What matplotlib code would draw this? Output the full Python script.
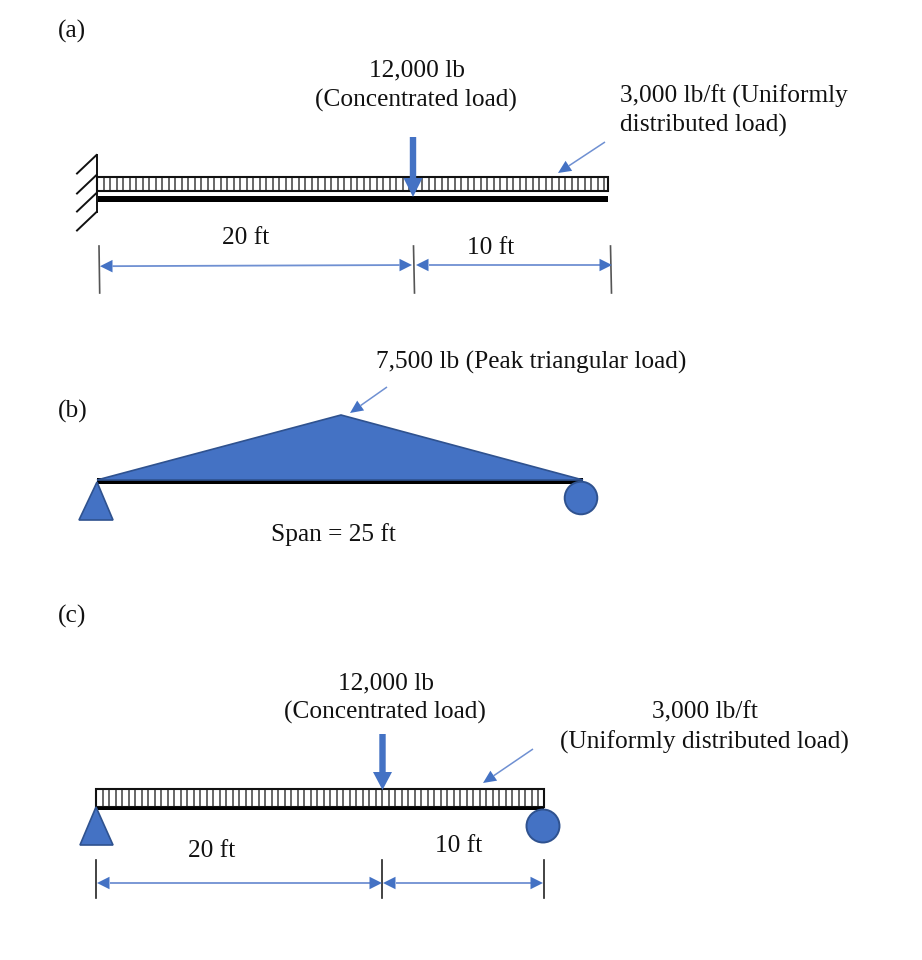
import numpy as np
import matplotlib
matplotlib.use("Agg")
import matplotlib.pyplot as plt
from matplotlib.patches import Polygon, Circle, Rectangle

# ---- values stated on the diagram
panel_labels = ["(a)", "(b)", "(c)"]
spans_a_ft = [20, 10]
spans_c_ft = [20, 10]
span_b_ft = 25
concentrated_lb = 12000
uniform_lb_ft = 3000
peak_triangular_lb = 7500

BLUE = "#4472C4"
LINE = "#6F90D2"
EDGE = "#2F528F"
FS = 18.3

plt.rcParams["font.family"] = ["Liberation Serif", "DejaVu Serif"]
fig = plt.figure(figsize=(9.22, 9.60), dpi=100)
ax = fig.add_axes([0, 0, 1, 1])
ax.set_xlim(0, 922)
ax.set_ylim(960, 0)
ax.axis("off")


def txt(x, y, s, ha="center"):
    ax.text(x, y + 3, s, fontsize=FS, ha=ha, va="center", color="#111111")


def arrow(p0, p1, lw=1.3, length=12.5, width=12.5):
    p0, p1 = np.array(p0, float), np.array(p1, float)
    u = (p1 - p0) / np.hypot(*(p1 - p0))
    n = np.array([-u[1], u[0]])
    neck = p1 - u * length
    ax.plot([p0[0], neck[0]], [p0[1], neck[1]], color=LINE, lw=lw, zorder=4, solid_capstyle="butt")
    ax.add_patch(Polygon([p1, neck + n * width / 2, neck - n * width / 2], closed=True,
                         fc=BLUE, ec="none", zorder=5))


def udl(x0, x1, y0, y1):
    for x in np.arange(x0 + 6.5, x1 - 1, 6.5):
        ax.plot([x, x], [y0, y1], color="#555555", lw=1.25, zorder=2)
    ax.add_patch(Rectangle((x0, y0), x1 - x0, y1 - y0, fc="none", ec="#111111", lw=1.5, zorder=3))


def beam(x0, x1, y0, y1):
    ax.add_patch(Rectangle((x0, y0), x1 - x0, y1 - y0, fc="black", ec="none", zorder=3))


def point_load(x, y0, y_neck, y_tip):
    ax.add_patch(Polygon([(x - 3.2, y0), (x + 3.2, y0), (x + 3.2, y_neck), (x + 9.5, y_neck),
                          (x, y_tip), (x - 9.5, y_neck), (x - 3.2, y_neck)],
                         closed=True, fc=BLUE, ec="none", zorder=6))


def pin(xa, ya, xl, xr, yb):
    ax.add_patch(Polygon([(xa, ya), (xl, yb), (xr, yb)], closed=True, fc=BLUE, ec=EDGE, lw=1.2, zorder=4))


def roller(x, y, r):
    ax.add_patch(Circle((x, y), r, fc=BLUE, ec=EDGE, lw=1.4, zorder=4))


def dim_tick(x0, y0, x1, y1, color="#555555"):
    ax.plot([x0, x1], [y0, y1], color=color, lw=1.2, zorder=4)


conc_text = f"{concentrated_lb:,} lb"
uni_text = f"{uniform_lb_ft:,} lb/ft"

# ---- (a) cantilever
txt(58, 28, panel_labels[0], ha="left")
txt(417, 67, conc_text)
txt(416, 97, "(Concentrated load)")
txt(620, 93, f"{uni_text} (Uniformly", ha="left")
txt(620, 122, "distributed load)", ha="left")
udl(97, 607.5, 177, 191)
beam(98, 608, 196, 202)
ax.plot([96.5, 96.5], [155, 212], color="#111111", lw=1.4, zorder=3)
for top in (155, 175, 193, 212):
    ax.plot([96.5, 77], [top, top + 18.5], color="#111111", lw=1.4, zorder=3)
point_load(413, 137, 178, 197)
arrow((605, 142), (558, 173), lw=1.1, length=13, width=12)
dim_tick(99, 246, 99.7, 293)
dim_tick(413.5, 246, 414.5, 293)
dim_tick(610.5, 246, 611.5, 293)
arrow((256, 265.6), (100, 266.2))
arrow((256, 265.6), (412, 265))
arrow((514, 265), (416, 265))
arrow((514, 265), (612, 265))
txt(246, 235, f"{spans_a_ft[0]} ft")
txt(491, 245, f"{spans_a_ft[1]} ft")

# ---- (b) simply supported, triangular load
txt(58, 408, panel_labels[1], ha="left")
txt(531, 359, f"{peak_triangular_lb:,} lb (Peak triangular load)")
arrow((387, 387), (350, 413), lw=1.1, length=13, width=12)
beam(97, 583, 478, 484)
ax.add_patch(Polygon([(97, 480), (341, 415), (583, 480)], closed=True, fc=BLUE, ec=EDGE, lw=1.2, zorder=4))
pin(97, 482, 79, 113, 520)
roller(581, 498, 16.3)
txt(333, 532, f"Span = {span_b_ft} ft")

# ---- (c) simply supported, combined load
txt(58, 613, panel_labels[2], ha="left")
txt(386, 680, conc_text)
txt(385, 709, "(Concentrated load)")
txt(705, 709, uni_text)
txt(704, 739, "(Uniformly distributed load)")
udl(96, 544, 789, 806.5)
beam(96, 544, 806.5, 810)
point_load(382.5, 734, 772, 790)
arrow((533, 749), (483, 783), lw=1.1, length=13, width=12)
pin(96, 807, 80, 113, 845)
roller(543, 826, 16.5)
for x in (96, 382, 543.5):
    dim_tick(x, 860, x, 898, color="#222222")
arrow((240, 883), (97, 883))
arrow((240, 883), (382, 883))
arrow((463, 883), (383, 883))
arrow((463, 883), (543, 883))
txt(212, 848, f"{spans_c_ft[0]} ft")
txt(459, 843, f"{spans_c_ft[1]} ft")

fig.savefig("out.png", dpi=100, facecolor="white")
